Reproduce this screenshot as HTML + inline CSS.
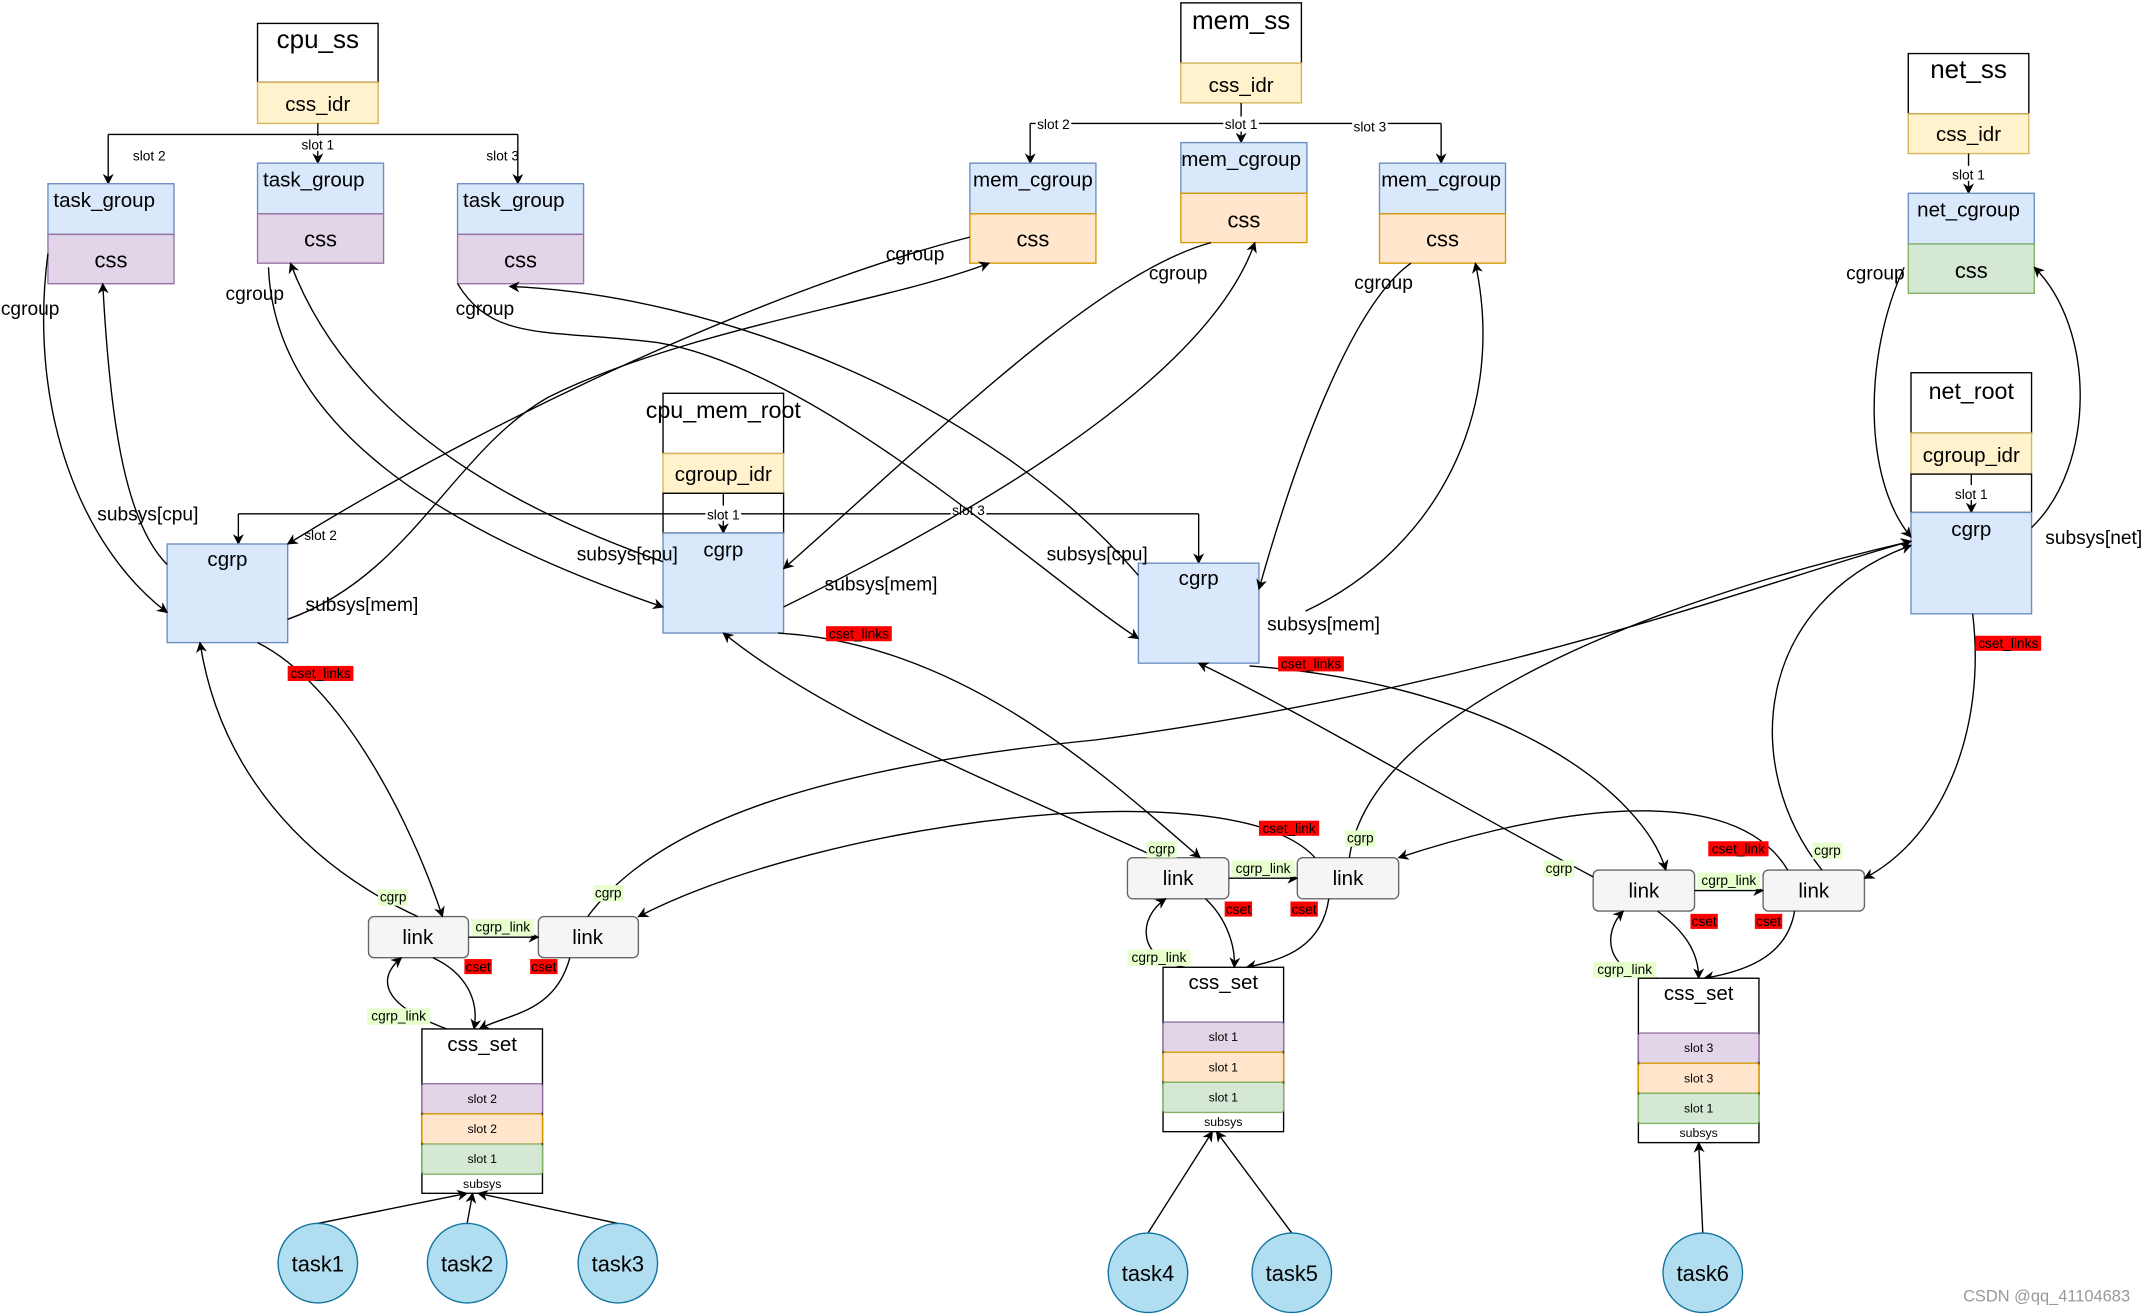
<!DOCTYPE html>
<html><head><meta charset="utf-8"><style>
html,body{margin:0;padding:0;background:#fff;}
svg{display:block;font-family:"Liberation Sans",sans-serif;}
.p{fill:none;stroke:#000;stroke-width:1;marker-end:url(#a);}
.n{fill:none;stroke:#000;stroke-width:1;}
text{fill:#000;}
</style></head><body>
<svg width="2148" height="1314" viewBox="0 0 1568 959" xmlns="http://www.w3.org/2000/svg">
<defs>
<marker id="a" viewBox="0 0 10 10" refX="9" refY="5" markerWidth="8" markerHeight="8" markerUnits="userSpaceOnUse" orient="auto"><path d="M0,0 L10,5 L0,10 L3,5 z" fill="#000"/></marker>
</defs>

<!-- cpu_ss -->
<rect x="188" y="17" width="88" height="43" fill="#fff" stroke="#000"/>
<text x="232" y="35" font-size="19" text-anchor="middle">cpu_ss</text>
<rect x="188" y="60" width="88" height="30" fill="#fff2cc" stroke="#d6b656"/>
<text x="232" y="81" font-size="15" text-anchor="middle">css_idr</text>
<path class="n" d="M232,90 V98 M79,98 H378"/>
<path class="p" d="M79,98 V134"/><path class="p" d="M232,98 V119"/><path class="p" d="M378,98 V134"/>
<rect x="220" y="99" width="26" height="11" fill="#fff"/>
<text x="97" y="117" font-size="10">slot 2</text><text x="232" y="109" font-size="10" text-anchor="middle">slot 1</text><text x="355" y="117" font-size="10">slot 3</text>

<!-- task groups -->
<g font-size="15">
<rect x="35" y="134" width="92" height="37" fill="#dae8fc" stroke="#6c8ebf"/><text x="39" y="151">task_group</text>
<rect x="35" y="171" width="92" height="36" fill="#e1d5e7" stroke="#9673a6"/><text x="81" y="195" text-anchor="middle" font-size="16">css</text>
<rect x="188" y="119" width="92" height="37" fill="#dae8fc" stroke="#6c8ebf"/><text x="192" y="136">task_group</text>
<rect x="188" y="156" width="92" height="36" fill="#e1d5e7" stroke="#9673a6"/><text x="234" y="180" text-anchor="middle" font-size="16">css</text>
<rect x="334" y="134" width="92" height="37" fill="#dae8fc" stroke="#6c8ebf"/><text x="338" y="151">task_group</text>
<rect x="334" y="171" width="92" height="36" fill="#e1d5e7" stroke="#9673a6"/><text x="380" y="195" text-anchor="middle" font-size="16">css</text>
</g>

<!-- mem_ss -->
<rect x="862" y="2" width="88" height="44" fill="#fff" stroke="#000"/>
<text x="906" y="21" font-size="19" text-anchor="middle">mem_ss</text>
<rect x="862" y="46" width="88" height="29" fill="#fff2cc" stroke="#d6b656"/>
<text x="906" y="67" font-size="15" text-anchor="middle">css_idr</text>
<path class="n" d="M906,75 V90 M752,90 H1052"/>
<path class="p" d="M752,90 V119"/><path class="p" d="M906,90 V104"/><path class="p" d="M1052,90 V119"/>
<rect x="756" y="85" width="26" height="11" fill="#fff"/><rect x="893" y="85" width="26" height="11" fill="#fff"/><rect x="987" y="86" width="26" height="11" fill="#fff"/>
<text x="769" y="94" font-size="10" text-anchor="middle">slot 2</text><text x="906" y="94" font-size="10" text-anchor="middle">slot 1</text><text x="1000" y="96" font-size="10" text-anchor="middle">slot 3</text>
<g font-size="15">
<rect x="708" y="119" width="92" height="37" fill="#dae8fc" stroke="#6c8ebf"/><text x="754" y="136" text-anchor="middle">mem_cgroup</text>
<rect x="708" y="156" width="92" height="36" fill="#ffe6cc" stroke="#d79b00"/><text x="754" y="180" text-anchor="middle" font-size="16">css</text>
<rect x="862" y="104" width="92" height="37" fill="#dae8fc" stroke="#6c8ebf"/><text x="906" y="121" text-anchor="middle">mem_cgroup</text>
<rect x="862" y="141" width="92" height="36" fill="#ffe6cc" stroke="#d79b00"/><text x="908" y="166" text-anchor="middle" font-size="16">css</text>
<rect x="1007" y="119" width="92" height="37" fill="#dae8fc" stroke="#6c8ebf"/><text x="1052" y="136" text-anchor="middle">mem_cgroup</text>
<rect x="1007" y="156" width="92" height="36" fill="#ffe6cc" stroke="#d79b00"/><text x="1053" y="180" text-anchor="middle" font-size="16">css</text>
</g>

<!-- net_ss -->
<rect x="1393" y="39" width="88" height="44" fill="#fff" stroke="#000"/>
<text x="1437" y="57" font-size="19" text-anchor="middle">net_ss</text>
<rect x="1393" y="83" width="88" height="29" fill="#fff2cc" stroke="#d6b656"/>
<text x="1437" y="103" font-size="15" text-anchor="middle">css_idr</text>
<path class="p" d="M1437,112 V141"/>
<rect x="1424" y="121" width="26" height="11" fill="#fff"/><text x="1437" y="131" font-size="10" text-anchor="middle">slot 1</text>
<rect x="1393" y="141" width="92" height="37" fill="#dae8fc" stroke="#6c8ebf"/><text x="1437" y="158" font-size="15" text-anchor="middle">net_cgroup</text>
<rect x="1393" y="178" width="92" height="36" fill="#d5e8d4" stroke="#82b366"/><text x="1439" y="203" font-size="16" text-anchor="middle">css</text>

<!-- net_root -->
<rect x="1395" y="272" width="88" height="44" fill="#fff" stroke="#000"/>
<text x="1439" y="291" font-size="17" text-anchor="middle">net_root</text>
<rect x="1395" y="316" width="88" height="30" fill="#fff2cc" stroke="#d6b656"/>
<text x="1439" y="337" font-size="15" text-anchor="middle">cgroup_idr</text>
<rect x="1395" y="346" width="88" height="28" fill="#fff" stroke="#000"/>
<path class="p" d="M1439,346 V374"/><rect x="1426" y="354" width="26" height="11" fill="#fff"/><text x="1439" y="364" font-size="10" text-anchor="middle">slot 1</text>
<rect x="1395" y="374" width="88" height="74" fill="#dae8fc" stroke="#6c8ebf"/><text x="1439" y="391" font-size="15" text-anchor="middle">cgrp</text>

<!-- cpu_mem_root -->
<rect x="484" y="287" width="88" height="44" fill="#fff" stroke="#000"/>
<text x="528" y="305" font-size="17" text-anchor="middle">cpu_mem_root</text>
<rect x="484" y="331" width="88" height="29" fill="#fff2cc" stroke="#d6b656"/>
<text x="528" y="351" font-size="15" text-anchor="middle">cgroup_idr</text>
<rect x="484" y="360" width="88" height="29" fill="#fff" stroke="#000"/>
<path class="p" d="M528,360 V389"/>
<path class="n" d="M174,375 H875"/>
<path class="p" d="M174,375 V397"/><path class="p" d="M875,375 V411"/>
<rect x="515" y="369" width="26" height="11" fill="#fff"/><text x="528" y="379" font-size="10" text-anchor="middle">slot 1</text>
<rect x="694" y="367" width="26" height="11" fill="#fff"/><text x="707" y="376" font-size="10" text-anchor="middle">slot 3</text>
<text x="234" y="394" font-size="10" text-anchor="middle">slot 2</text>
<rect x="484" y="389" width="88" height="73" fill="#dae8fc" stroke="#6c8ebf"/><text x="528" y="406" font-size="15" text-anchor="middle">cgrp</text>

<rect x="122" y="397" width="88" height="72" fill="#dae8fc" stroke="#6c8ebf"/><text x="166" y="413" font-size="15" text-anchor="middle">cgrp</text>
<rect x="831" y="411" width="88" height="73" fill="#dae8fc" stroke="#6c8ebf"/><text x="875" y="427" font-size="15" text-anchor="middle">cgrp</text>

<!-- cgroup / subsys curves -->
<path class="p" d="M35,185 C20,300 60,400 122,447"/>
<path class="p" d="M122,412 C90,380 80,300 75,207"/>
<path class="p" d="M196,195 C200,300 300,380 484,443"/>
<path class="p" d="M484,410 C400,380 260,320 212,192"/>
<path class="p" d="M334,207 C360,250 400,240 480,250 C600,270 760,420 831,466"/>
<path class="p" d="M831,420 C720,290 520,215 372,209"/>
<path class="p" d="M708,173 C600,200 400,280 210,397"/>
<path class="p" d="M210,452 C300,420 330,330 400,290 C500,240 650,220 722,192"/>
<path class="p" d="M884,177 C800,200 680,320 572,415"/>
<path class="p" d="M572,443 C700,380 880,280 916,177"/>
<path class="p" d="M1030,192 C990,220 950,320 919,430"/>
<path class="p" d="M953,446 C1050,400 1100,300 1077,192"/>
<path class="p" d="M1390,195 C1360,260 1360,350 1395,392"/>
<path class="p" d="M1483,385 C1530,340 1530,240 1485,195"/>
<g font-size="14">
<text x="22" y="230" text-anchor="middle">cgroup</text>
<text x="186" y="219" text-anchor="middle">cgroup</text>
<text x="354" y="230" text-anchor="middle">cgroup</text>
<text x="668" y="190" text-anchor="middle">cgroup</text>
<text x="860" y="204" text-anchor="middle">cgroup</text>
<text x="1010" y="211" text-anchor="middle">cgroup</text>
<text x="1369" y="204" text-anchor="middle">cgroup</text>
<text x="71" y="380">subsys[cpu]</text>
<text x="421" y="409">subsys[cpu]</text>
<text x="764" y="409">subsys[cpu]</text>
<text x="223" y="446">subsys[mem]</text>
<text x="602" y="431">subsys[mem]</text>
<text x="925" y="460">subsys[mem]</text>
<text x="1493" y="397">subsys[net]</text>
</g>

<!-- links -->
<g font-size="15" fill="#333">
<rect x="269" y="669" width="73" height="30" rx="4" fill="#f5f5f5" stroke="#666"/><text x="305" y="689" text-anchor="middle" fill="#333">link</text>
<rect x="393" y="669" width="73" height="30" rx="4" fill="#f5f5f5" stroke="#666"/><text x="429" y="689" text-anchor="middle" fill="#333">link</text>
<rect x="823" y="626" width="74" height="30" rx="4" fill="#f5f5f5" stroke="#666"/><text x="860" y="646" text-anchor="middle" fill="#333">link</text>
<rect x="947" y="626" width="74" height="30" rx="4" fill="#f5f5f5" stroke="#666"/><text x="984" y="646" text-anchor="middle" fill="#333">link</text>
<rect x="1163" y="635" width="74" height="30" rx="4" fill="#f5f5f5" stroke="#666"/><text x="1200" y="655" text-anchor="middle" fill="#333">link</text>
<rect x="1287" y="635" width="74" height="30" rx="4" fill="#f5f5f5" stroke="#666"/><text x="1324" y="655" text-anchor="middle" fill="#333">link</text>
</g>

<!-- cset_links -->
<path class="p" d="M188,469 C250,500 300,600 323,669"/>
<path class="p" d="M568,462 C700,470 800,560 876,626"/>
<path class="p" d="M912,486 C1100,500 1200,580 1216,635"/>
<path class="p" d="M1440,448 C1450,530 1420,610 1361,641"/>
<!-- cgrp -->
<path class="p" d="M305,669 C220,630 160,560 146,469"/>
<path class="p" d="M429,669 C480,600 600,560 800,540 C1100,500 1300,420 1395,395"/>
<path class="p" d="M845,626 C700,560 600,520 528,462"/>
<path class="p" d="M985,626 C1000,520 1200,440 1395,395"/>
<path class="p" d="M1163,640 C1050,580 950,520 875,484"/>
<path class="p" d="M1330,635 C1270,560 1280,440 1395,398"/>
<!-- cset_link -->
<path class="p" d="M960,626 C900,560 600,600 466,669"/>
<path class="p" d="M1305,635 C1260,560 1100,600 1021,626"/>
<!-- cgrp_link -->
<path class="p" d="M342,684 H393"/><path class="p" d="M897,641 H947"/><path class="p" d="M1237,650 H1287"/>
<!-- cset -->
<path class="p" d="M316,699 C340,710 350,730 346,751"/>
<path class="p" d="M416,699 C405,740 370,740 350,751"/>
<path class="p" d="M880,656 C895,670 902,690 901,706"/>
<path class="p" d="M970,656 C965,690 940,700 910,706"/>
<path class="p" d="M1210,665 C1230,680 1240,695 1240,714"/>
<path class="p" d="M1310,665 C1305,695 1280,708 1244,714"/>
<!-- cgrp_link back -->
<path class="p" d="M326,751 C270,730 280,710 293,699"/>
<path class="p" d="M865,706 C830,700 830,670 851,656"/>
<path class="p" d="M1210,714 C1170,710 1170,680 1185,665"/>

<!-- labels -->
<g font-size="10">
<rect x="210" y="486" width="48" height="11" fill="#f00"/><text x="234" y="495" text-anchor="middle">cset_links</text>
<rect x="603" y="457" width="48" height="11" fill="#f00"/><text x="627" y="466" text-anchor="middle">cset_links</text>
<rect x="933" y="479" width="48" height="11" fill="#f00"/><text x="957" y="488" text-anchor="middle">cset_links</text>
<rect x="1442" y="464" width="48" height="11" fill="#f00"/><text x="1466" y="473" text-anchor="middle">cset_links</text>
<rect x="919" y="599" width="44" height="11" fill="#f00"/><text x="941" y="608" text-anchor="middle">cset_link</text>
<rect x="1247" y="614" width="44" height="11" fill="#f00"/><text x="1269" y="623" text-anchor="middle">cset_link</text>
<rect x="339" y="700" width="20" height="11" fill="#f00"/><text x="349" y="709" text-anchor="middle">cset</text>
<rect x="387" y="700" width="20" height="11" fill="#f00"/><text x="397" y="709" text-anchor="middle">cset</text>
<rect x="894" y="658" width="20" height="11" fill="#f00"/><text x="904" y="667" text-anchor="middle">cset</text>
<rect x="942" y="658" width="20" height="11" fill="#f00"/><text x="952" y="667" text-anchor="middle">cset</text>
<rect x="1234" y="667" width="20" height="11" fill="#f00"/><text x="1244" y="676" text-anchor="middle">cset</text>
<rect x="1281" y="667" width="20" height="11" fill="#f00"/><text x="1291" y="676" text-anchor="middle">cset</text>
<g fill="#e6ffcc">
<rect x="276" y="649" width="22" height="12"/><rect x="433" y="646" width="22" height="12"/><rect x="837" y="614" width="22" height="12"/>
<rect x="982" y="606" width="22" height="12"/><rect x="1127" y="628" width="22" height="12"/><rect x="1323" y="615" width="22" height="12"/>
<rect x="344" y="671" width="46" height="12"/><rect x="899" y="628" width="46" height="12"/><rect x="1239" y="637" width="46" height="12"/>
<rect x="268" y="736" width="46" height="12"/><rect x="823" y="693" width="46" height="12"/><rect x="1163" y="702" width="46" height="12"/>
</g>
<text x="287" y="658" text-anchor="middle">cgrp</text><text x="444" y="655" text-anchor="middle">cgrp</text><text x="848" y="623" text-anchor="middle">cgrp</text>
<text x="993" y="615" text-anchor="middle">cgrp</text><text x="1138" y="637" text-anchor="middle">cgrp</text><text x="1334" y="624" text-anchor="middle">cgrp</text>
<text x="367" y="680" text-anchor="middle">cgrp_link</text><text x="922" y="637" text-anchor="middle">cgrp_link</text><text x="1262" y="646" text-anchor="middle">cgrp_link</text>
<text x="291" y="745" text-anchor="middle">cgrp_link</text><text x="846" y="702" text-anchor="middle">cgrp_link</text><text x="1186" y="711" text-anchor="middle">cgrp_link</text>
</g>

<!-- css_sets -->
<g font-size="9">
<rect x="308" y="751" width="88" height="120" fill="#fff" stroke="#000"/>
<text x="352" y="767" font-size="15" text-anchor="middle">css_set</text>
<rect x="308" y="791" width="88" height="22" rx="2" fill="#e1d5e7" stroke="#9673a6"/><text x="352" y="805" text-anchor="middle">slot 2</text>
<rect x="308" y="813" width="88" height="22" rx="2" fill="#ffe6cc" stroke="#d79b00"/><text x="352" y="827" text-anchor="middle">slot 2</text>
<rect x="308" y="835" width="88" height="22" rx="2" fill="#d5e8d4" stroke="#82b366"/><text x="352" y="849" text-anchor="middle">slot 1</text>
<text x="352" y="867" text-anchor="middle">subsys</text>

<rect x="849" y="706" width="88" height="120" fill="#fff" stroke="#000"/>
<text x="893" y="722" font-size="15" text-anchor="middle">css_set</text>
<rect x="849" y="746" width="88" height="22" rx="2" fill="#e1d5e7" stroke="#9673a6"/><text x="893" y="760" text-anchor="middle">slot 1</text>
<rect x="849" y="768" width="88" height="22" rx="2" fill="#ffe6cc" stroke="#d79b00"/><text x="893" y="782" text-anchor="middle">slot 1</text>
<rect x="849" y="790" width="88" height="22" rx="2" fill="#d5e8d4" stroke="#82b366"/><text x="893" y="804" text-anchor="middle">slot 1</text>
<text x="893" y="822" text-anchor="middle">subsys</text>

<rect x="1196" y="714" width="88" height="120" fill="#fff" stroke="#000"/>
<text x="1240" y="730" font-size="15" text-anchor="middle">css_set</text>
<rect x="1196" y="754" width="88" height="22" rx="2" fill="#e1d5e7" stroke="#9673a6"/><text x="1240" y="768" text-anchor="middle">slot 3</text>
<rect x="1196" y="776" width="88" height="22" rx="2" fill="#ffe6cc" stroke="#d79b00"/><text x="1240" y="790" text-anchor="middle">slot 3</text>
<rect x="1196" y="798" width="88" height="22" rx="2" fill="#d5e8d4" stroke="#82b366"/><text x="1240" y="812" text-anchor="middle">slot 1</text>
<text x="1240" y="830" text-anchor="middle">subsys</text>
</g>

<!-- tasks -->
<path class="p" d="M232,893 L341,871"/><path class="p" d="M341,893 L345,871"/><path class="p" d="M451,893 L349,871"/>
<path class="p" d="M838,900 L885,826"/><path class="p" d="M943,900 L888,826"/><path class="p" d="M1243,900 L1240,834"/>
<g fill="#b1ddf0" stroke="#10739e">
<circle cx="232" cy="922" r="29"/><circle cx="341" cy="922" r="29"/><circle cx="451" cy="922" r="29"/>
<circle cx="838" cy="929" r="29"/><circle cx="943" cy="929" r="29"/><circle cx="1243" cy="929" r="29"/>
</g>
<g font-size="16" text-anchor="middle">
<text x="232" y="928">task1</text><text x="341" y="928">task2</text><text x="451" y="928">task3</text>
<text x="838" y="935">task4</text><text x="943" y="935">task5</text><text x="1243" y="935">task6</text>
</g>
<text x="1433" y="950" font-size="12" fill="#999" style="fill:#999">CSDN @qq_41104683</text>
</svg>
</body></html>
